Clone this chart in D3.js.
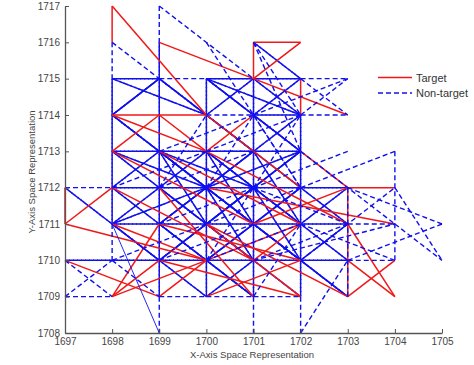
<!DOCTYPE html>
<html><head><meta charset="utf-8">
<script src="https://cdn.jsdelivr.net/npm/d3@7"></script>
<style>body{margin:0;background:#fff}svg{display:block}text{font-family:"Liberation Sans",Arial,sans-serif}</style>
</head><body><div id="chart"></div>
<script>
const xTicks=[1697,1698,1699,1700,1701,1702,1703,1704,1705];
const yTicks=[1708,1709,1710,1711,1712,1713,1714,1715,1716,1717];
const seriesNames=["Target","Non-target"];
// edges: [x1,y1,x2,y2]
const targetEdges=[
[1698,1717,1698,1716],[1698,1717,1700,1714],[1699,1716,1701,1715],[1701,1716,1702,1716],
[1701,1716,1701,1715],[1702,1716,1701,1715],[1701,1715,1703,1714],[1702,1715,1702,1714],
[1698,1714,1699,1714],[1699,1714,1700,1714],[1698,1713,1699,1714],[1698,1714,1700,1713],
[1699,1714,1700,1713],[1700,1713,1701,1714],[1700,1714,1702,1712],[1699,1713,1702,1711],
[1700,1713,1703,1711],[1698,1713,1701,1711],
[1697,1712,1697,1711],[1697,1711,1698,1712],[1697,1711,1700,1710],[1697,1710,1699,1709],
[1698,1709,1699,1711],[1698,1709,1700,1710],[1698,1709,1699,1710],[1698,1711,1700,1710],
[1699,1709,1700,1710],[1700,1709,1702,1710],[1699,1710,1702,1709],[1699,1712,1701,1709],
[1702,1713,1703,1712],[1703,1712,1704,1712],[1703,1712,1703,1709],[1700,1712,1704,1711],
[1701,1711,1703,1712],[1703,1711,1704,1709],[1703,1710,1704,1709],[1703,1709,1704,1710],
[1700,1711,1703,1709],[1700,1711,1702,1709],[1701,1710,1702,1711],[1698,1712,1701,1710],
[1699,1711,1702,1710],[1700,1710,1702,1711]
];
const nonTargetDashed=[
[1698,1716,1698,1715],[1698,1716,1699,1715],[1699,1717,1699,1716],[1699,1717,1701,1715],
[1700,1716,1701,1714],[1701,1716,1702,1714],[1701,1716,1702,1713],[1702,1715,1703,1715],
[1702,1715,1703,1714],[1701,1714,1703,1715],[1702,1714,1703,1715],[1699,1715,1700,1715],
[1700,1714,1701,1714],[1700,1713,1701,1713],[1702,1714,1703,1714],
[1697,1712,1698,1712],[1698,1711,1698,1710],[1697,1709,1698,1709],[1697,1710,1698,1709],
[1697,1709,1698,1710],[1699,1709,1699,1708],[1699,1709,1700,1709],[1700,1709,1701,1709],
[1701,1709,1702,1709],[1701,1709,1701,1708],[1702,1709,1702,1708],[1702,1708,1703,1710],
[1703,1712,1703,1709],[1703,1711,1704,1711],[1703,1710,1704,1710],
[1704,1713,1704,1710],[1704,1713,1702,1712],[1703,1713,1701,1712],[1703,1712,1705,1711],
[1703,1710,1705,1711],[1704,1712,1705,1710],[1704,1711,1705,1710],[1702,1713,1704,1711],
[1702,1710,1704,1712],[1701,1710,1704,1711],[1702,1711,1704,1710],[1698,1710,1700,1711],
[1699,1712,1700,1714],[1699,1713,1701,1714],[1700,1712,1701,1714],[1699,1712,1701,1713],
[1701,1712,1702,1714],[1700,1713,1702,1714],[1702,1712,1701,1714],[1701,1714,1702,1712],
[1698,1710,1699,1709],[1700,1710,1701,1712],[1701,1709,1702,1711],
[1699,1711,1701,1712],[1700,1710,1702,1711],[1699,1710,1701,1711],[1698,1712,1700,1713],
[1700,1711,1702,1712],[1701,1710,1703,1711],[1701,1712,1703,1711]
];
const nonTargetRepeated=[
[1698,1715,1699,1715],[1700,1715,1702,1715],[1701,1714,1702,1714],[1698,1713,1702,1713],
[1698,1712,1703,1712],[1698,1711,1703,1711],[1697,1710,1703,1710],
[1698,1715,1698,1711],[1699,1716,1699,1709],[1700,1715,1700,1709],[1701,1715,1701,1709],
[1702,1714,1702,1709],
[1701,1716,1702,1715],[1699,1715,1698,1714],[1698,1715,1700,1714],[1699,1715,1700,1714],
[1700,1715,1701,1714],[1701,1715,1700,1714],[1700,1715,1702,1714],[1701,1715,1702,1714],
[1702,1715,1701,1714],
[1698,1713,1699,1712],[1698,1712,1699,1713],[1699,1713,1700,1712],[1699,1712,1700,1713],
[1700,1713,1701,1712],[1700,1712,1701,1713],[1701,1713,1702,1712],[1701,1712,1702,1713],
[1698,1712,1699,1711],[1698,1711,1699,1712],[1699,1712,1700,1711],[1699,1711,1700,1712],
[1700,1712,1701,1711],[1700,1711,1701,1712],[1701,1712,1702,1711],[1701,1711,1702,1712],
[1702,1712,1703,1711],[1702,1711,1703,1712],
[1698,1711,1699,1710],[1699,1711,1700,1710],[1699,1710,1700,1711],[1700,1711,1701,1710],
[1700,1710,1701,1711],[1701,1711,1702,1710],[1702,1711,1703,1710],[1702,1710,1703,1711],
[1699,1710,1700,1709],[1700,1710,1701,1709],[1700,1709,1701,1710],[1701,1710,1702,1709],
[1702,1710,1703,1709],
[1698,1714,1699,1713],[1700,1714,1701,1713],[1701,1714,1702,1713],[1701,1713,1702,1714],
[1697,1712,1699,1710],[1698,1713,1700,1712],[1698,1711,1700,1712],
[1699,1713,1701,1712],[1699,1713,1701,1711],[1700,1713,1702,1711],[1701,1713,1699,1711],
[1702,1713,1700,1711],[1702,1713,1700,1712],[1699,1712,1701,1710],[1700,1712,1702,1710],
[1701,1712,1699,1710],[1702,1712,1700,1710],[1699,1711,1701,1709],[1701,1711,1703,1709],
[1698,1714,1700,1712],[1699,1715,1701,1713],[1700,1715,1702,1713],[1698,1714,1699,1715],
[1699,1713,1700,1711],[1700,1713,1701,1711],[1701,1713,1702,1711],[1700,1712,1701,1710],
[1701,1712,1702,1710]
];
const thinEdges=[[1699,1708,1698,1711]];

const W=474,H=365;
const svg=d3.select("#chart").append("svg").attr("width",W).attr("height",H);
const x=d3.scaleLinear().domain([1697,1705]).range([65,442]);
const y=d3.scaleLinear().domain([1708,1717]).range([333,6]);
const red="#f01818", blue="#1010ee";

function draw(list,color,width,dash,offset){
  svg.append("g").selectAll("line").data(list).join("line")
    .attr("x1",d=>x(d[0])).attr("y1",d=>y(d[1])).attr("x2",d=>x(d[2])).attr("y2",d=>y(d[3]))
    .attr("stroke",color).attr("stroke-width",width).attr("fill","none")
    .attr("stroke-dasharray",dash||null).attr("stroke-dashoffset",offset||0);
}
draw(nonTargetRepeated,blue,1.5,"5,3",0);
draw(nonTargetRepeated,blue,1.5,"5,3",4);
draw(targetEdges,red,1.5);
draw(nonTargetDashed,blue,1.4,"5,3",0);
draw(thinEdges,blue,0.9);

// node dots at busy junctions
const deg=new Map();
[...nonTargetRepeated].forEach(e=>{[[e[0],e[1]],[e[2],e[3]]].forEach(p=>{const k=p.join(",");deg.set(k,(deg.get(k)||0)+1);});});
const nodes=[...deg].filter(d=>d[1]>=8).map(d=>d[0].split(",").map(Number));
svg.append("g").selectAll("circle").data(nodes).join("circle")
  .attr("cx",d=>x(d[0])).attr("cy",d=>y(d[1])).attr("r",2.6).attr("fill",blue);

// axes
const ax=svg.append("g").attr("transform","translate(0,333)").call(d3.axisBottom(x).tickValues(xTicks).tickFormat(d3.format("d")).tickSizeInner(-4).tickSizeOuter(0).tickPadding(5));
const ay=svg.append("g").attr("transform","translate(65,0)").call(d3.axisLeft(y).tickValues(yTicks).tickFormat(d3.format("d")).tickSizeInner(-4).tickSizeOuter(0).tickPadding(5));
[ax,ay].forEach(a=>{a.select(".domain").attr("stroke","#555").attr("stroke-width",1.3);a.selectAll(".tick line").attr("stroke","#555");a.selectAll("text").attr("fill","#444").style("font-size","10px").style("font-family","'Liberation Sans',Arial,sans-serif");});
ay.selectAll("text").attr("x",-5);

svg.append("text").attr("x",252).attr("y",358).attr("text-anchor","middle").attr("fill","#444").style("font-size","9.5px").text("X-Axis Space Representation");
svg.append("text").attr("transform","translate(35,172) rotate(-90)").attr("text-anchor","middle").attr("fill","#444").style("font-size","9.5px").text("Y-Axis Space Representation");

// legend
const lg=svg.append("g");
lg.append("line").attr("x1",378).attr("x2",412).attr("y1",77.5).attr("y2",77.5).attr("stroke",red).attr("stroke-width",1.6);
lg.append("line").attr("x1",378).attr("x2",412).attr("y1",93).attr("y2",93).attr("stroke",blue).attr("stroke-width",1.6).attr("stroke-dasharray","5,3");
lg.append("text").attr("x",416).attr("y",81.5).attr("fill","#333").style("font-size","11px").text(seriesNames[0]);
lg.append("text").attr("x",416).attr("y",97).attr("fill","#333").style("font-size","11px").text(seriesNames[1]);
</script></body></html>
